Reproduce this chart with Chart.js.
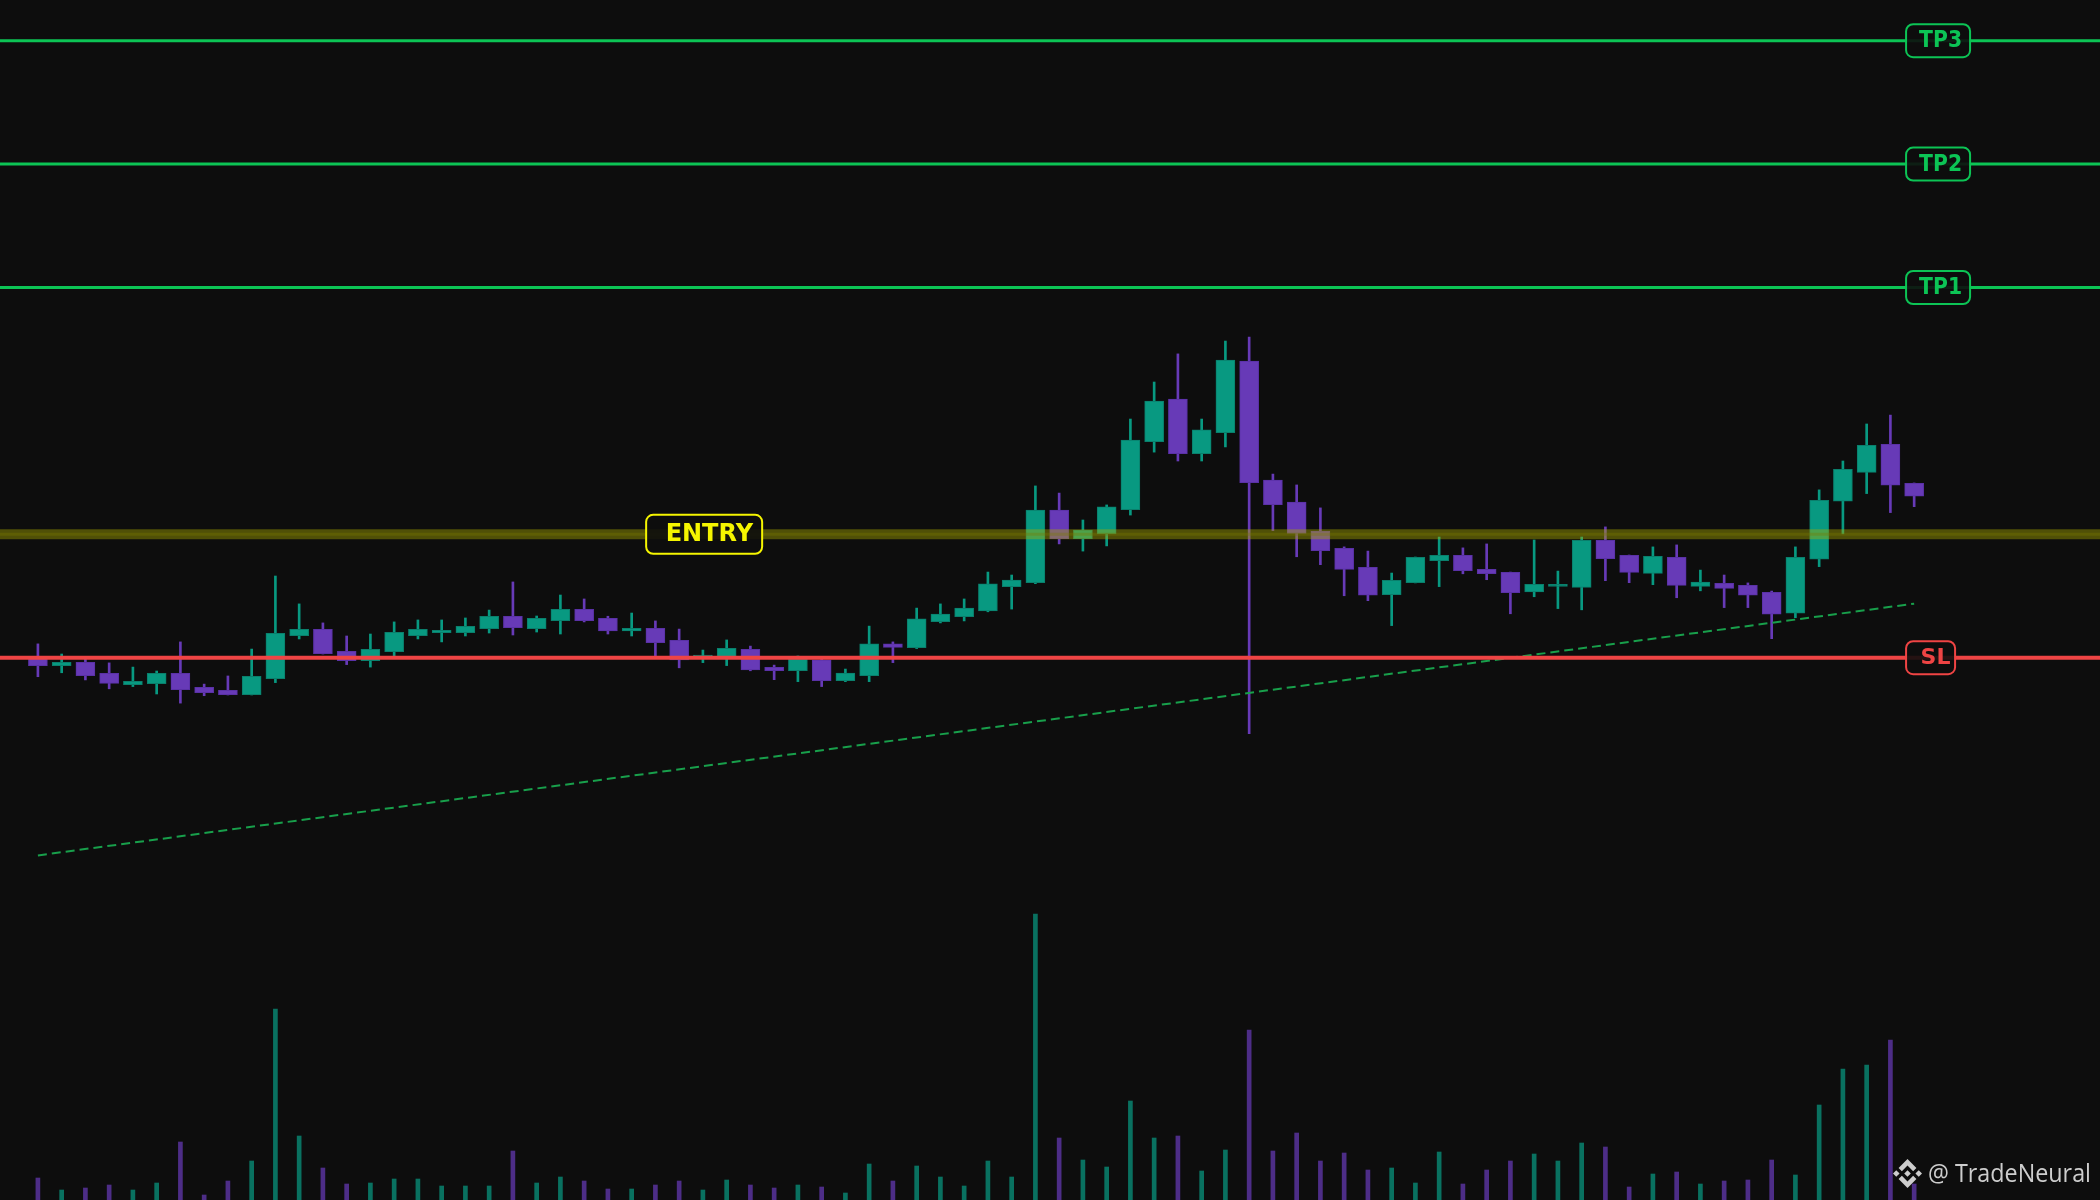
<!DOCTYPE html>
<html>
<head>
<meta charset="utf-8">
<script src="https://cdn.jsdelivr.net/npm/chart.js@4.4.1/dist/chart.umd.min.js"></script>
<style>
  html, body { margin: 0; padding: 0; background: #0d0d0d; overflow: hidden; }
  #wrap { position: relative; width: 2100px; height: 1200px; }
  canvas { display: block; }
  #wm { position: absolute; left: 1893px; top: 1158px; height: 30px; color: #cdcdcd; }
  #wm svg { position: absolute; left: 0; top: 1px; width: 29px; height: 29px; }
  #wm span { position: absolute; left: 35px; top: 2px; font-family: "Open Sans", "Noto Sans", sans-serif; font-size: 25px; line-height: 25px; white-space: nowrap; transform-origin: 0 50%; }
</style>
</head>
<body>
<div id="wrap">
  <canvas id="c" width="2100" height="1200"></canvas>
  <div id="wm">
    <svg viewBox="0 0 126.61 126.61" fill="#cdcdcd">
      <path d="M38.73 53.2l24.59-24.58 24.6 24.6 14.3-14.31L63.32 0 24.42 38.9l14.31 14.3z"/>
      <path d="M0 63.31l14.3-14.31 14.31 14.31-14.31 14.3z"/>
      <path d="M38.73 73.41l24.59 24.59 24.6-24.6 14.31 14.29-38.9 38.91-38.91-38.88-.02-.02z"/>
      <path d="M98 63.31l14.3-14.31 14.31 14.3-14.31 14.32z"/>
      <path d="M77.83 63.3L63.32 48.78 52.59 59.51l-1.24 1.23-2.54 2.54-.02.02.02.03 14.51 14.5 14.51-14.52.01-.01-.01-.01z"/>
    </svg>
    <span id="wmText">@ TradeNeural</span>
  </div>
</div>
<script>
// ---- data ----
const opens  = [95.02,94.68,94.81,94.37,93.91,93.95,94.37,93.80,93.68,93.50,
                94.15,95.89,96.15,95.26,94.88,95.24,95.89,96.01,96.01,96.18,
                96.68,96.18,96.50,96.96,96.60,96.09,96.19,95.70,95.04,95.04,
                95.34,94.61,94.47,94.91,94.07,94.27,95.56,95.41,96.46,96.66,
                96.90,97.88,98.04,100.98,99.82,100.02,101.00,103.75,105.48,103.27,
                104.12,107.02,102.20,101.31,100.12,99.43,98.66,97.55,98.04,98.93,
                99.15,98.58,98.46,97.67,97.89,97.85,99.76,99.15,98.42,99.07,
                97.89,98.01,97.93,97.65,96.80,98.99,101.34,102.51,103.65,102.07];
const highs  = [95.56,95.15,94.94,94.79,94.62,94.46,95.64,93.93,94.26,95.35,
                98.31,97.18,96.41,95.88,95.96,96.45,96.53,96.53,96.61,96.93,
                98.07,96.69,97.54,97.38,96.68,96.81,96.49,96.16,95.31,95.72,
                95.47,94.70,95.07,95.03,94.54,96.28,95.64,97.01,97.18,97.38,
                98.47,98.35,101.96,101.67,100.58,101.19,104.67,106.17,107.31,104.67,
                107.83,107.99,102.44,102.00,101.07,99.49,99.32,98.43,99.08,99.89,
                99.45,99.61,98.47,99.77,98.51,99.89,100.30,99.16,99.49,99.57,
                98.55,98.35,98.03,97.70,99.49,101.80,102.97,104.47,104.83,102.08];
const lows   = [94.23,94.39,94.10,93.74,93.83,93.53,93.16,93.46,93.49,93.49,
                93.99,95.76,95.15,94.72,94.62,95.07,95.76,95.64,95.88,96.00,
                95.92,96.04,95.96,96.45,95.96,95.88,95.07,94.59,94.80,94.68,
                94.47,94.11,94.03,93.83,94.03,94.03,94.80,95.37,96.41,96.49,
                96.86,96.97,98.00,99.61,99.32,99.53,100.78,103.33,102.97,102.97,
                103.54,91.92,100.15,99.09,98.77,97.51,97.31,96.30,98.03,97.88,
                98.40,98.16,96.78,97.47,96.99,96.94,98.12,98.04,97.96,97.43,
                97.71,97.03,97.03,95.77,96.62,98.69,100.02,101.65,100.88,101.12];
const closes = [94.68,94.81,94.27,93.96,94.04,94.37,93.70,93.58,93.50,94.25,
                95.99,96.15,95.16,94.88,95.34,96.03,96.15,96.11,96.27,96.68,
                96.22,96.60,96.96,96.50,96.09,96.19,95.61,94.91,95.11,95.38,
                94.50,94.47,94.94,94.07,94.38,95.56,95.42,96.57,96.77,97.01,
                97.99,98.15,100.98,99.82,100.17,101.11,103.82,105.40,103.27,104.23,
                107.06,102.09,101.20,100.04,99.34,98.58,97.53,98.14,99.07,99.15,
                98.53,98.40,97.63,97.97,97.97,99.76,99.01,98.46,99.11,97.93,
                98.06,97.81,97.53,96.76,99.07,101.38,102.63,103.61,101.99,101.54];
const volumes = [220,100,120,150,100,170,580,50,190,390,
                 1910,640,320,160,170,210,210,140,140,140,
                 490,170,230,190,110,110,150,190,100,200,
                 150,120,150,130,70,360,190,340,230,140,
                 390,230,2860,620,400,330,990,620,640,290,
                 500,1700,490,670,390,470,300,320,170,480,
                 160,300,390,460,390,570,530,130,260,280,
                 160,190,200,400,250,950,1310,1350,1600,160];
const levelNames  = ['TP3', 'TP2', 'TP1', 'ENTRY', 'SL'];
const levelPrices = [120, 115, 110, 100, 95];
const trendStart = [0, 86.99];
const trendEnd   = [79, 97.19];

// ---- styling ----
const UP = '#089981', DN = '#673ab7';
const UP_EDGE = '#0a7f6c', DN_EDGE = '#5a31a6';
const UP_VOL = 'rgba(8,153,129,0.72)', DN_VOL = 'rgba(103,58,183,0.72)';
const TP_COL = '#0cc455', SL_COL = '#ef4444', EN_COL = '#f5f500';

const idx = opens.map((_, i) => i);
const isUp = idx.map(i => closes[i] >= opens[i]);
const fillCols = isUp.map(u => u ? UP : DN);
const edgeCols = isUp.map(u => u ? UP_EDGE : DN_EDGE);
const volCols  = isUp.map(u => u ? UP_VOL : DN_VOL);

function levelLine(price, color, width, order, dash) {
  return {
    type: 'line', data: [{x: -5, y: price}, {x: 95, y: price}],
    borderColor: color, borderWidth: width, pointRadius: 0, order: order,
    borderDash: dash || [], yAxisID: 'y', clip: false
  };
}

const datasets = [
  { type: 'bar', label: 'Volume', data: idx.map(i => ({x: i, y: volumes[i]})),
    backgroundColor: volCols, barThickness: 4, grouped: false, order: 40, yAxisID: 'yv' },
  { type: 'bar', label: 'Wick', data: idx.map(i => ({x: i, y: [lows[i], highs[i]]})),
    backgroundColor: fillCols, barThickness: 2, grouped: false, order: 30, yAxisID: 'y' },
  { type: 'bar', label: 'Body', data: idx.map(i => ({x: i, y: [opens[i], closes[i]]})),
    backgroundColor: fillCols, borderColor: edgeCols, borderWidth: 1, borderSkipped: false,
    barThickness: 19, grouped: false, order: 29, yAxisID: 'y' },
  { type: 'line', label: 'Trend', data: [{x: trendStart[0], y: trendStart[1]}, {x: trendEnd[0], y: trendEnd[1]}],
    borderColor: '#189f4b', borderWidth: 2, borderDash: [9, 5], pointRadius: 0, order: 10, yAxisID: 'y' }
];
levelNames.forEach((n, k) => {
  const p = levelPrices[k];
  if (n === 'ENTRY') {
    datasets.push(levelLine(p, 'rgba(175,175,0,0.42)', 10, 6));
    datasets.push(levelLine(p, 'rgba(120,120,0,0.35)', 3, 5));
  } else if (n === 'SL') {
    datasets.push(levelLine(p, SL_COL, 4, 4));
  } else {
    datasets.push(levelLine(p, TP_COL, 3, 4));
  }
});

// label geometry (pixels) keyed by level kind
const labelStyle = {
  TP:    { atX: 78.66, w: 64,  h: 33, tx: 13,   base: 6.5, font: 'bold 23px "DejaVu Sans"', maxW: 43, color: TP_COL },
  SL:    { atX: 78.66, w: 49,  h: 33, tx: 14.5, base: 6.3, font: 'bold 22px "DejaVu Sans"', maxW: 0,  color: SL_COL },
  ENTRY: { atX: 25.61, w: 116, h: 39, tx: 19.5, base: 6.7, font: 'bold 24px "DejaVu Sans"', maxW: 0,  color: EN_COL }
};

function rr(ctx, x, y, w, h, r) {
  ctx.beginPath();
  ctx.moveTo(x + r, y);
  ctx.lineTo(x + w - r, y); ctx.arcTo(x + w, y, x + w, y + r, r);
  ctx.lineTo(x + w, y + h - r); ctx.arcTo(x + w, y + h, x + w - r, y + h, r);
  ctx.lineTo(x + r, y + h); ctx.arcTo(x, y + h, x, y + h - r, r);
  ctx.lineTo(x, y + r); ctx.arcTo(x, y, x + r, y, r);
  ctx.closePath();
}

const bgPlugin = {
  id: 'bg',
  beforeDraw(c) {
    const ctx = c.ctx; ctx.save(); ctx.fillStyle = '#0d0d0d';
    ctx.fillRect(0, 0, c.width, c.height); ctx.restore();
  }
};
const labelPlugin = {
  id: 'levelLabels',
  afterDatasetsDraw(c) {
    const ctx = c.ctx, xs = c.scales.x, ys = c.scales.y;
    levelNames.forEach((n, k) => {
      const st = labelStyle[n.startsWith('TP') ? 'TP' : n];
      const yc = ys.getPixelForValue(levelPrices[k]);
      const x0 = xs.getPixelForValue(st.atX);
      ctx.save();
      rr(ctx, x0, yc - st.h / 2, st.w, st.h, 7);
      ctx.fillStyle = 'rgba(13,13,13,0.9)';
      ctx.fill();
      ctx.lineWidth = 2;
      ctx.strokeStyle = st.color;
      ctx.stroke();
      ctx.fillStyle = st.color;
      ctx.font = st.font;
      ctx.textBaseline = 'alphabetic';
      ctx.textAlign = 'left';
      if (st.maxW) ctx.fillText(n, x0 + st.tx, yc + st.base, st.maxW);
      else ctx.fillText(n, x0 + st.tx, yc + st.base);
      ctx.restore();
    });
  }
};

new Chart(document.getElementById('c'), {
  type: 'bar',
  data: { datasets },
  options: {
    responsive: false, animation: false, devicePixelRatio: 1,
    layout: { padding: 0 },
    plugins: { legend: { display: false }, tooltip: { enabled: false } },
    scales: {
      x:  { type: 'linear', min: -1.596, max: 86.825, offset: false, display: false },
      y:  { type: 'linear', min: 73.027, max: 121.649, display: false },
      yv: { type: 'linear', min: 0, max: 12000, display: false }
    }
  },
  plugins: [bgPlugin, labelPlugin]
});

// fit the watermark text to the width it occupies in the reference
const wmText = document.getElementById('wmText');
const wmWidth = wmText.getBoundingClientRect().width;
if (wmWidth > 0) wmText.style.transform = 'scaleX(' + (163 / wmWidth).toFixed(4) + ')';
</script>
</body>
</html>
